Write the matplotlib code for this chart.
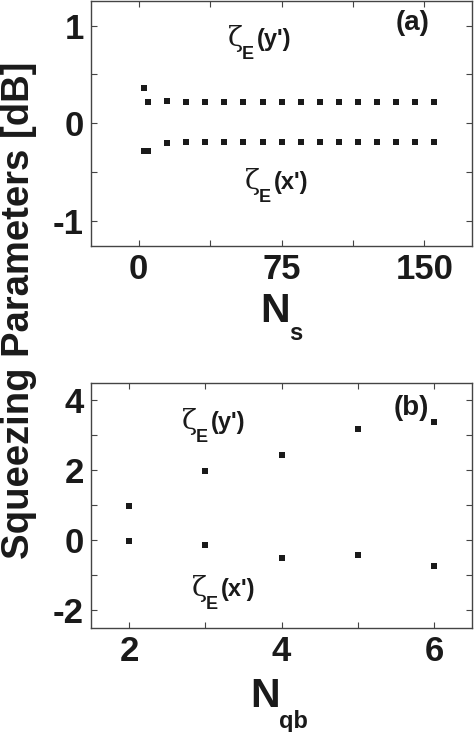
import numpy as np
import matplotlib
matplotlib.use('Agg')
import matplotlib.pyplot as plt
from matplotlib.ticker import MultipleLocator

plt.rcParams['font.family'] = ['Liberation Sans', 'DejaVu Sans']
plt.rcParams['font.weight'] = 'bold'
plt.rcParams['axes.unicode_minus'] = False

# panel (a): squeezing vs N_s
ns = [3, 5, 15, 25, 35, 45, 55, 65, 75, 85, 95, 105, 115, 125, 135, 145, 155]
zeta_y_a = [0.36, 0.22, 0.23, 0.22, 0.22, 0.22, 0.22, 0.22, 0.22, 0.22,
            0.22, 0.22, 0.22, 0.22, 0.22, 0.22, 0.22]
zeta_x_a = [-0.28, -0.28, -0.20, -0.19, -0.19, -0.19, -0.19, -0.19, -0.19,
            -0.19, -0.19, -0.19, -0.19, -0.19, -0.19, -0.19, -0.19]

# panel (b): squeezing vs N_qb
nqb = [2, 3, 4, 5, 6]
zeta_y_b = [0.97, 1.97, 2.42, 3.17, 3.39]
zeta_x_b = [-0.02, -0.14, -0.51, -0.41, -0.73]

col = '#1a1a1a'


def zeta_label(ax, x, y, arg):
    # zeta + deep subscript E + (arg), anchored at zeta's left baseline
    ax.text(x, y, '\u03b6', transform=ax.transAxes, fontsize=20,
            family='DejaVu Serif', weight='normal',
            va='baseline', ha='left', color=col)
    ax.annotate('E', xy=(x, y), xycoords='axes fraction', xytext=(10, -9.5),
                textcoords='offset points', fontsize=13, va='baseline',
                ha='left', color=col)
    ax.annotate('(' + arg + "')", xy=(x, y), xycoords='axes fraction',
                xytext=(20.5, 0), textcoords='offset points', fontsize=17,
                va='baseline', ha='left', color=col)


def n_label(ax, x, y, sx, sy, sub):
    ax.text(x, y, 'N', transform=ax.transAxes, fontsize=29.5,
            va='baseline', ha='left', color=col)
    ax.text(sx, sy, sub, transform=ax.transAxes, fontsize=17,
            va='baseline', ha='left', color=col)


fig = plt.figure(figsize=(4.74, 7.32), dpi=100)
ax1 = fig.add_axes([0.192, 0.6645, 0.804, 0.334])
ax2 = fig.add_axes([0.192, 0.1425, 0.804, 0.3347])

for ax in (ax1, ax2):
    for s in ax.spines.values():
        s.set_color('#444444')
        s.set_linewidth(1.0)
    ax.tick_params(which='both', direction='in', top=True, right=True,
                   length=4, width=0.8, color='#444444',
                   labelsize=25, pad=5, labelcolor=col)

ax1.plot(ns, zeta_y_a, 's', color=col, ms=4.3, mew=0)
ax1.plot(ns, zeta_x_a, 's', color=col, ms=4.3, mew=0)
ax1.set_xlim(-25, 175)
ax1.set_ylim(-1.25, 1.25)
ax1.xaxis.set_major_locator(MultipleLocator(75))
ax1.xaxis.set_minor_locator(MultipleLocator(37.5))
ax1.yaxis.set_major_locator(MultipleLocator(1))
ax1.yaxis.set_minor_locator(MultipleLocator(0.5))
n_label(ax1, 0.445, -0.312, 0.52, -0.386, 's')
zeta_label(ax1, 0.36, 0.816, 'y')
zeta_label(ax1, 0.404, 0.231, 'x')
ax1.text(0.843, 0.91, '(a)', transform=ax1.transAxes,
         fontsize=20, ha='center', va='center', color=col)

ax2.plot(nqb, zeta_y_b, 's', color=col, ms=4.3, mew=0)
ax2.plot(nqb, zeta_x_b, 's', color=col, ms=4.3, mew=0)
ax2.set_xlim(1.5, 6.5)
ax2.set_ylim(-2.5, 4.5)
ax2.xaxis.set_major_locator(MultipleLocator(2))
ax2.xaxis.set_minor_locator(MultipleLocator(1))
ax2.yaxis.set_major_locator(MultipleLocator(2))
ax2.yaxis.set_minor_locator(MultipleLocator(1))
n_label(ax2, 0.419, -0.324, 0.494, -0.409, 'qb')
zeta_label(ax2, 0.239, 0.811, 'y')
zeta_label(ax2, 0.265, 0.129, 'x')
ax2.text(0.84, 0.897, '(b)', transform=ax2.transAxes,
         fontsize=20, ha='center', va='center', color=col)

fig.text(0.04, 1 - 310 / 732, 'Squeezing Parameters [dB]', rotation=90,
         fontsize=27.5, fontweight='bold', ha='center', va='center', color=col)

fig.savefig('out.png', dpi=100)
